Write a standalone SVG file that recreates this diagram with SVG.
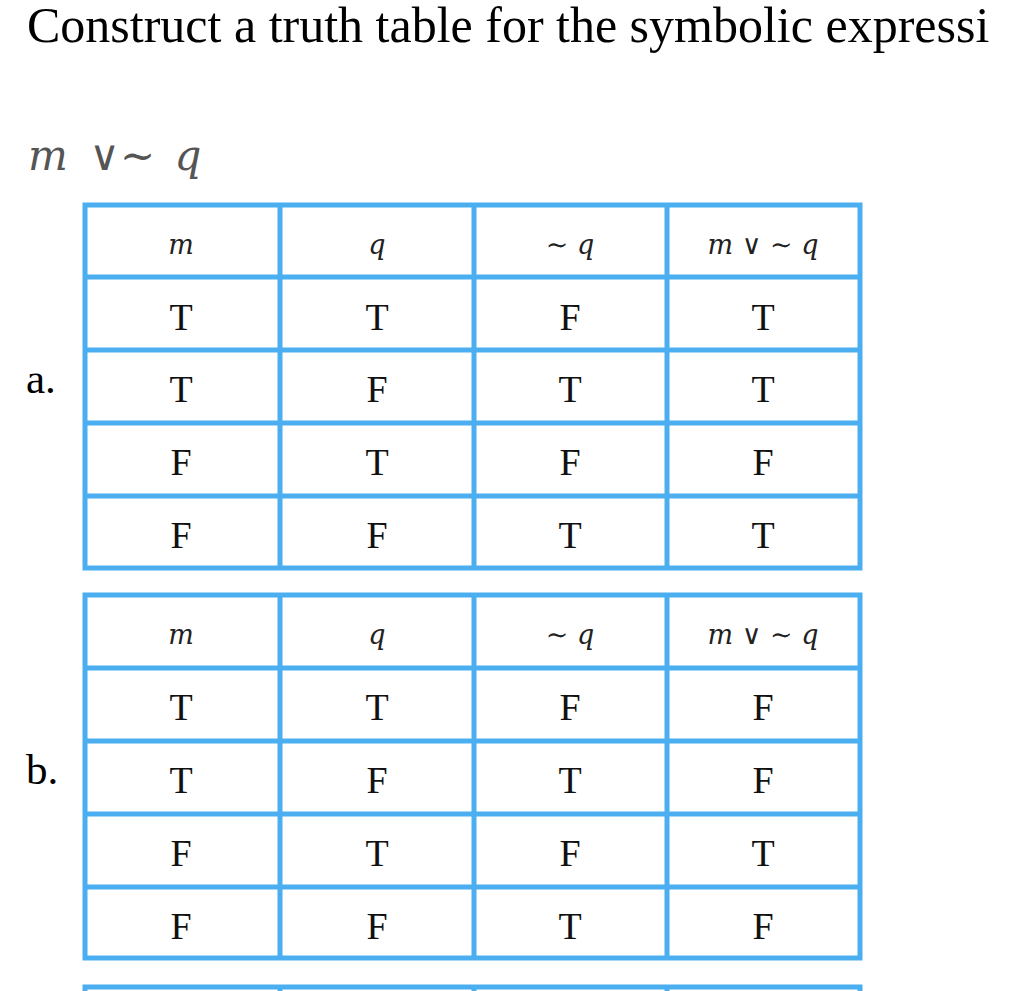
<svg xmlns="http://www.w3.org/2000/svg" width="1024" height="991" viewBox="0 0 1024 991">
<style>
.g{fill:none;stroke:#4aaef0;stroke-width:5}
.c{font-family:"Liberation Serif",serif;font-size:38px;fill:#111;text-anchor:middle}
.h{font-family:"DejaVu Serif","Liberation Serif",serif;font-style:italic;font-size:27px;fill:#222;text-anchor:middle}
.l{font-family:"Liberation Serif",serif;font-size:43px;fill:#000}
</style>
<rect width="1024" height="991" fill="#fff"/>
<text x="27" y="42" font-family="Liberation Serif,serif" font-size="50" fill="#000">Construct a truth table for the symbolic expressi</text>
<text x="28" y="170" font-family="DejaVu Serif,serif" font-style="italic" font-size="42" fill="#555">m <tspan font-style="normal" dx="8">∨∼</tspan> <tspan dx="6">q</tspan></text>
<text class="l" x="26" y="393">a.</text>
<text class="l" x="26" y="784">b.</text>
<g id="tableA">
<rect class="g" x="85" y="205" width="775" height="363"/>
<path class="g" d="M280 205V568M474 205V568M667 205V568M85 277H860M85 350H860M85 423H860M85 496H860"/>
<text class="h" x="181" y="254">m</text><text class="h" x="377" y="254">q</text><text class="h" x="570" y="254">∼ q</text><text class="h" x="763" y="254">m ∨ ∼ q</text>
<text class="c" x="181" y="330">T</text><text class="c" x="377" y="330">T</text><text class="c" x="570" y="330">F</text><text class="c" x="763" y="330">T</text>
<text class="c" x="181" y="402">T</text><text class="c" x="377" y="402">F</text><text class="c" x="570" y="402">T</text><text class="c" x="763" y="402">T</text>
<text class="c" x="181" y="475">F</text><text class="c" x="377" y="475">T</text><text class="c" x="570" y="475">F</text><text class="c" x="763" y="475">F</text>
<text class="c" x="181" y="548">F</text><text class="c" x="377" y="548">F</text><text class="c" x="570" y="548">T</text><text class="c" x="763" y="548">T</text>
</g>
<g id="tableB">
<rect class="g" x="85" y="595" width="775" height="363"/>
<path class="g" d="M280 595V958M474 595V958M667 595V958M85 668H860M85 741H860M85 814H860M85 887H860"/>
<text class="h" x="181" y="644">m</text><text class="h" x="377" y="644">q</text><text class="h" x="570" y="644">∼ q</text><text class="h" x="763" y="644">m ∨ ∼ q</text>
<text class="c" x="181" y="720">T</text><text class="c" x="377" y="720">T</text><text class="c" x="570" y="720">F</text><text class="c" x="763" y="720">F</text>
<text class="c" x="181" y="793">T</text><text class="c" x="377" y="793">F</text><text class="c" x="570" y="793">T</text><text class="c" x="763" y="793">F</text>
<text class="c" x="181" y="866">F</text><text class="c" x="377" y="866">T</text><text class="c" x="570" y="866">F</text><text class="c" x="763" y="866">T</text>
<text class="c" x="181" y="939">F</text><text class="c" x="377" y="939">F</text><text class="c" x="570" y="939">T</text><text class="c" x="763" y="939">F</text>
</g>
<g id="tableC">
<path class="g" d="M85 995V987H860V995M280 987V995M474 987V995M667 987V995"/>
</g>
</svg>
